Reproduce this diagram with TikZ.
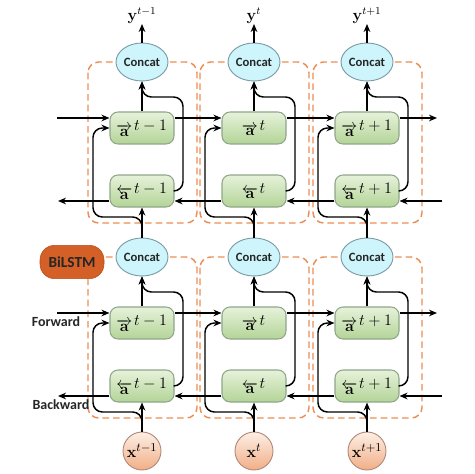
\documentclass[tikz,border=0pt]{standalone}
\usepackage[no-math]{fontspec}
\newfontfamily\cfont{Carlito}
\usetikzlibrary{arrows.meta,shapes.geometric}
\definecolor{celltop}{HTML}{E6F2DA}
\definecolor{cellbot}{HTML}{B3D497}
\definecolor{cellborder}{HTML}{8FA68A}
\definecolor{catfill}{HTML}{CDF5FB}
\definecolor{catborder}{HTML}{7D9CA6}
\definecolor{grpcol}{HTML}{E98F55}
\definecolor{bilfill}{HTML}{D45F27}
\definecolor{bilborder}{HTML}{B54D1C}
\definecolor{inptop}{HTML}{FDEFE5}
\definecolor{inpbot}{HTML}{F1AE86}
\definecolor{inpborder}{HTML}{B38A7A}
\definecolor{txtdark}{HTML}{262626}
\begin{document}
\begin{tikzpicture}[x=0.75pt,y=-0.75pt,
  cellbox/.style={draw=cellborder, line width=0.8pt, rounded corners=6pt,
    top color=celltop, bottom color=cellbot, minimum width=48pt,
    minimum height=24pt, inner sep=0pt, font=\fontsize{12}{14}\selectfont},
  catnode/.style={ellipse, draw=catborder, fill=catfill, line width=0.7pt,
    minimum width=39pt, minimum height=28.5pt, inner sep=0pt,
    font=\cfont\bfseries\fontsize{9.5}{11}\selectfont, text=txtdark},
  inpnode/.style={circle, draw=inpborder, line width=0.7pt, top color=inptop,
    bottom color=inpbot, minimum size=28.5pt, inner sep=0pt,
    font=\fontsize{13}{15}\selectfont},
  grpbox/.style={draw=grpcol, line width=1.1pt, dash pattern=on 5pt off 3pt,
    rounded corners=8pt},
  conn/.style={line width=1.1pt, -{Stealth[length=6pt,width=5pt]}},
  sidelabel/.style={font=\cfont\bfseries\fontsize{10.5}{12}\selectfont, text=txtdark, inner sep=0pt},
  outlabel/.style={font=\fontsize{12}{14}\selectfont, inner sep=0pt, anchor=south}
]
\useasboundingbox (0,0) rectangle (474,474);

% group boxes
\foreach \cx in {142,254,367}{
  \foreach \off in {0,195}{
    \draw[grpbox] (\cx-54,62+\off) rectangle (\cx+55,223+\off);
  }
}

% nodes
\foreach \i/\cx/\sup in {1/142/{t-1},2/254/{t},3/367/{t+1}}{
  \foreach \blk/\off in {U/0,L/195}{
    \node[catnode] (c\blk\i) at (\cx,62+\off) {Concat};
    \node[cellbox] (f\blk\i) at (\cx,128+\off) {$\overrightarrow{\mathbf{a}}\mkern2mu{}^{\textstyle\sup}$};
    \node[cellbox] (b\blk\i) at (\cx,191+\off) {$\overleftarrow{\mathbf{a}}\mkern2mu{}^{\textstyle\sup}$};
  }
  \node[outlabel] (y\i) at (\cx,24) {$\mathbf{y}^{\sup}$};
  \node[inpnode] (x\i) at (\cx,451) {$\mathbf{x}^{\sup}$};
}

\node[draw=bilborder, fill=bilfill, rounded corners=11pt, minimum width=48pt,
  minimum height=25pt, inner sep=0pt, text=txtdark,
  font=\cfont\bfseries\fontsize{11.5}{13}\selectfont] (bil) at (72,262) {BiLSTM};
\node[sidelabel] (fwdlab) at (56,322) {Forward};
\node[sidelabel] (bwdlab) at (61,405) {Backward};

% connectors inside columns
\foreach \i/\cx in {1/142,2/254,3/367}{
  \foreach \blk/\off in {U/0,L/195}{
    \draw[conn] (f\blk\i.north) -- (c\blk\i.south);
    \draw[conn, rounded corners=7pt] (b\blk\i.east) -- (\cx+41,191+\off)
       -- (\cx+41,97+\off) -- (\cx,97+\off) -- (c\blk\i.south);
    \draw[conn, rounded corners=7pt] (\cx,230+\off) -- (\cx,217+\off)
       -- (\cx-49,217+\off) -- (\cx-49,128+\off) -- (f\blk\i.west);
  }
  \draw[conn] (cU\i.north) -- (y\i.south);
  \draw[conn] (cL\i.north) -- (bU\i.south);
  \draw[conn] (x\i.north) -- (bL\i.south);
}

% horizontal recurrences
\foreach \blk/\off in {U/0,L/195}{
  \coordinate (fin\blk) at (57,118+\off);
  \coordinate (fout\blk) at (437,118+\off);
  \coordinate (bin\blk) at (442,201+\off);
  \coordinate (bout\blk) at (58,201+\off);
  \draw[conn] (fin\blk) -- ([yshift=7.5pt]f\blk1.west);
  \draw[conn] ([yshift=7.5pt]f\blk1.east) -- ([yshift=7.5pt]f\blk2.west);
  \draw[conn] ([yshift=7.5pt]f\blk2.east) -- ([yshift=7.5pt]f\blk3.west);
  \draw[conn] ([yshift=7.5pt]f\blk3.east) -- (fout\blk);
  \draw[conn] (bin\blk) -- ([yshift=-7.5pt]b\blk3.east);
  \draw[conn] ([yshift=-7.5pt]b\blk3.west) -- ([yshift=-7.5pt]b\blk2.east);
  \draw[conn] ([yshift=-7.5pt]b\blk2.west) -- ([yshift=-7.5pt]b\blk1.east);
  \draw[conn] ([yshift=-7.5pt]b\blk1.west) -- (bout\blk);
}
\end{tikzpicture}
\end{document}
